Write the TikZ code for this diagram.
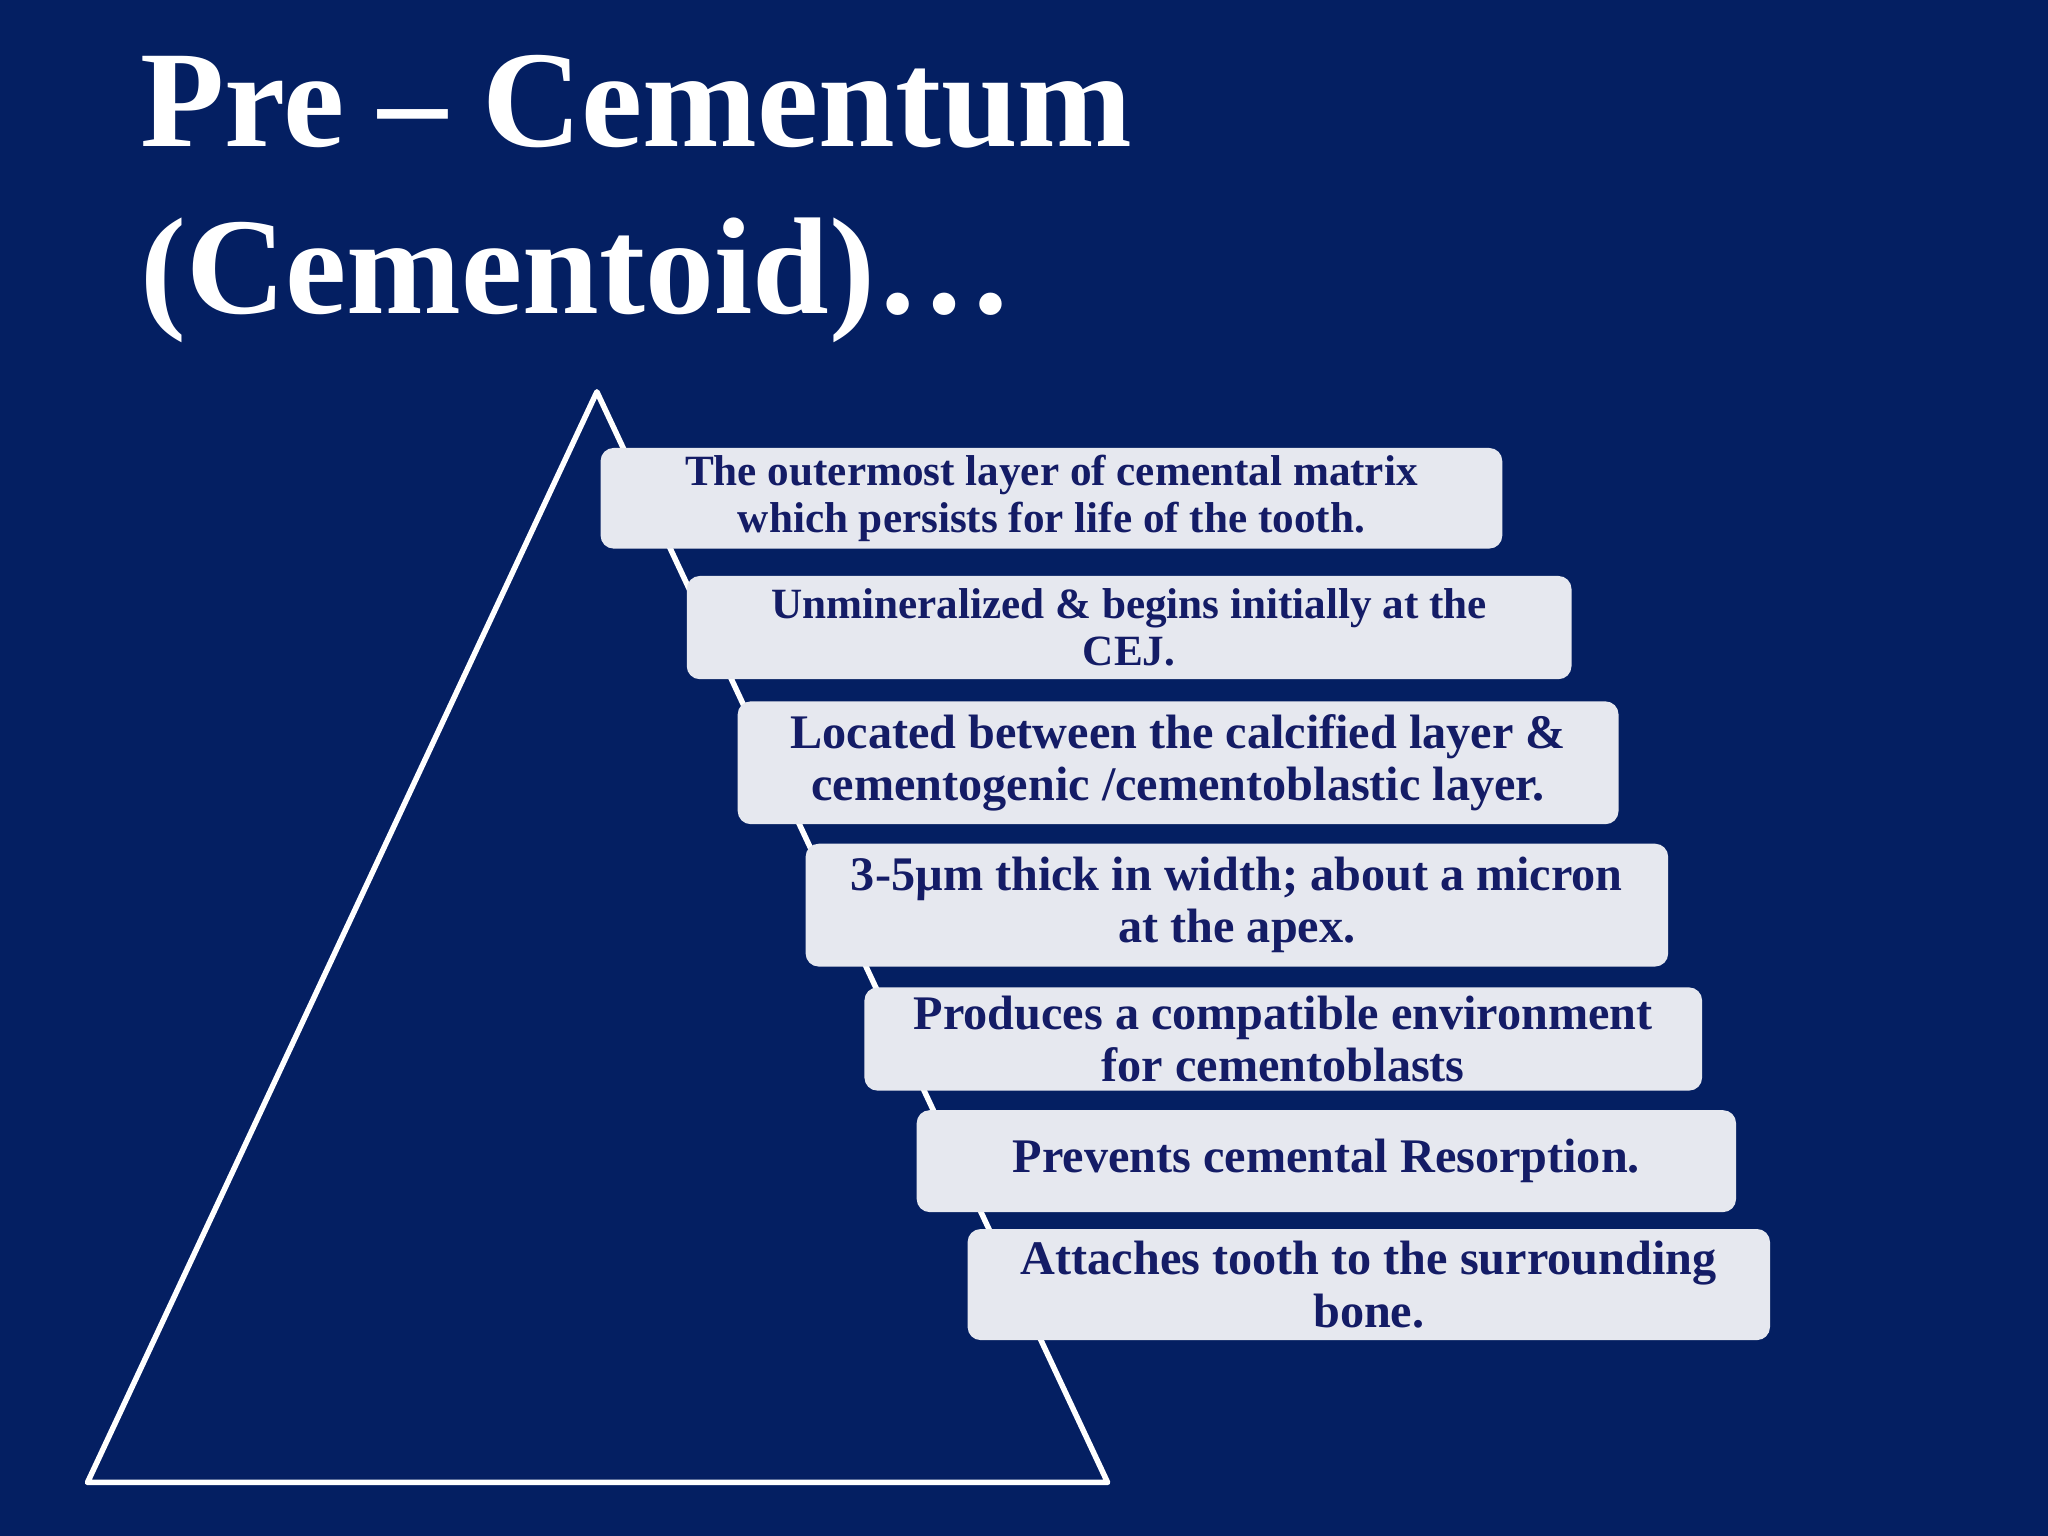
\documentclass[tikz,border=0pt]{standalone}
\usepackage{fontspec}
\setmainfont{Liberation Serif}
\definecolor{bg}{HTML}{041F62}
\definecolor{boxfill}{HTML}{E6E8EF}
\definecolor{boxtext}{HTML}{141C66}
\begin{document}
\begin{tikzpicture}[x=0.01cm,y=-0.01cm,
  box/.style={fill=boxfill,rounded corners=0.1cm,align=center,text=boxtext,font=\bfseries,inner sep=0pt},
  smalltxt/.style={font=\bfseries\fontsize{9.4}{10.3}\selectfont},
  bigtxt/.style={font=\bfseries\fontsize{10.5}{11.4}\selectfont}]
\fill[bg] (0,0) rectangle (1568,1176);
\useasboundingbox (0,0) rectangle (1568,1176);
\node[anchor=base west,text=white,font=\bfseries\fontsize{30}{34}\selectfont] (t1) at (95,112) {Pre – Cementum};
\node[anchor=base west,text=white,font=\bfseries\fontsize{30}{34}\selectfont] (t2) at (95,240) {(Cementoid)…};
\coordinate (apex) at (457,300);
\coordinate (bl) at (67,1135);
\coordinate (br) at (848,1135);
\draw[white,line width=1.2pt,line join=round] (apex) -- (bl) -- (br) -- cycle;
\node[box,smalltxt,minimum width=6.90cm,minimum height=0.77cm] (b1) at (805,381.5) {The outermost layer of cemental matrix\\which persists for life of the tooth.};
\node[box,smalltxt,minimum width=6.77cm,minimum height=0.79cm] (b2) at (864.5,480.5) {Unmineralized \& begins initially at the\\CEJ.};
\node[box,bigtxt,minimum width=6.74cm,minimum height=0.94cm] (b3) at (902,584) {Located between the calcified layer \&\\cementogenic /cementoblastic layer.};
\node[box,bigtxt,minimum width=6.60cm,minimum height=0.94cm] (b4) at (947,693) {3-5µm thick in width; about a micron\\at the apex.};
\node[box,bigtxt,minimum width=6.41cm,minimum height=0.79cm] (b5) at (982.5,795.5) {Produces a compatible environment\\for cementoblasts};
\node[box,bigtxt,minimum width=6.27cm,minimum height=0.78cm] (b6) at (1015.5,889) {Prevents cemental Resorption.};
\node[box,bigtxt,minimum width=6.14cm,minimum height=0.85cm] (b7) at (1048,983.5) {Attaches tooth to the surrounding\\bone.};
\end{tikzpicture}
\end{document}
